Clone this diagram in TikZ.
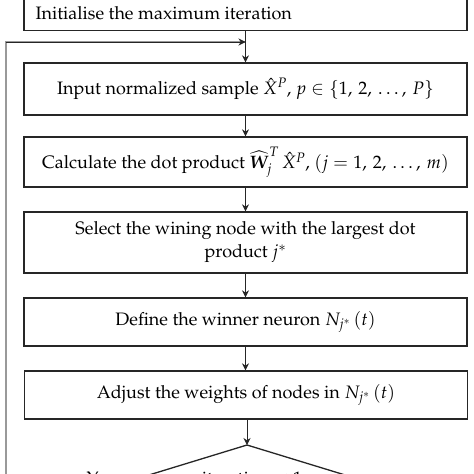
\documentclass[tikz,border=0pt]{standalone}
\usepackage{amsmath}
\usepackage[T1]{fontenc}
\usepackage{mathpazo}
\usetikzlibrary{arrows.meta}
\begin{document}
\begin{tikzpicture}[x=1pt,y=-1pt,
  box/.style={draw=black!85,line width=1.3pt,minimum width=443pt,inner sep=0pt,align=center,font=\fontsize{18}{23}\selectfont},
  lbl/.style={font=\fontsize{18}{23}\selectfont},
  arr/.style={draw=black!85,line width=0.8pt,-{Stealth[length=7pt,width=7pt]}},
  loopline/.style={draw=black!40,line width=1.5pt}]
\useasboundingbox (0,0) rectangle (474,474);
\node[box,minimum height=54pt,anchor=south] (init) at (245.5,31) {};
\node[lbl,anchor=west] (initt) at (32,13) {Initialise the maximum iteration};
\node[box,minimum height=52pt] (b2) at (245.5,89) {Input normalized sample $\hat{X}^{P}$, $p \in \{1,\,2,\,\ldots,\,P\}$};
\node[box,minimum height=50pt] (b3) at (245.5,162) {Calculate the dot product $\widehat{\boldsymbol{W}}_{\!j}^{T}\,\hat{X}^{P}$, $(j=1,\,2,\,\ldots,\,m)$};
\node[box,minimum height=61pt] (b4) at (245.5,242.5) {Select the wining node with the largest dot\\product $j^{*}$};
\node[box,minimum height=48pt] (b5) at (245.5,322) {Define the winner neuron $N_{j^{*}}\,(t)$};
\node[box,minimum height=48pt] (b6) at (246,395) {Adjust the weights of nodes in $N_{j^{*}}\,(t)$};
\coordinate (dtop) at (247,445);
\coordinate (dleft) at (-80,545);
\coordinate (dright) at (574,545);
\draw[black!85,line width=1.3pt] (dleft) -- (dtop) -- (dright);
\node[lbl] (yes) at (100,478.5) {Yes};
\node[lbl] (cond) at (252,478.5) {iteration $<$ 1};
\coordinate (l1) at (6,480);
\coordinate (l2) at (6,42);
\coordinate (l3) at (245.5,42);
\draw[loopline] (l1) -- (l2) -- (l3);
\draw[arr] (l2) -- (l3);
\draw[arr] (init.south) -- (b2.north);
\draw[arr] (b2.south) -- (b3.north);
\draw[arr] (b3.south) -- (b4.north);
\draw[arr] (b4.south) -- (b5.north);
\draw[arr] (b5.south) -- (b6.north -| b5.south);
\draw[arr] (b6.south -| dtop) -- (dtop);
\end{tikzpicture}
\end{document}
